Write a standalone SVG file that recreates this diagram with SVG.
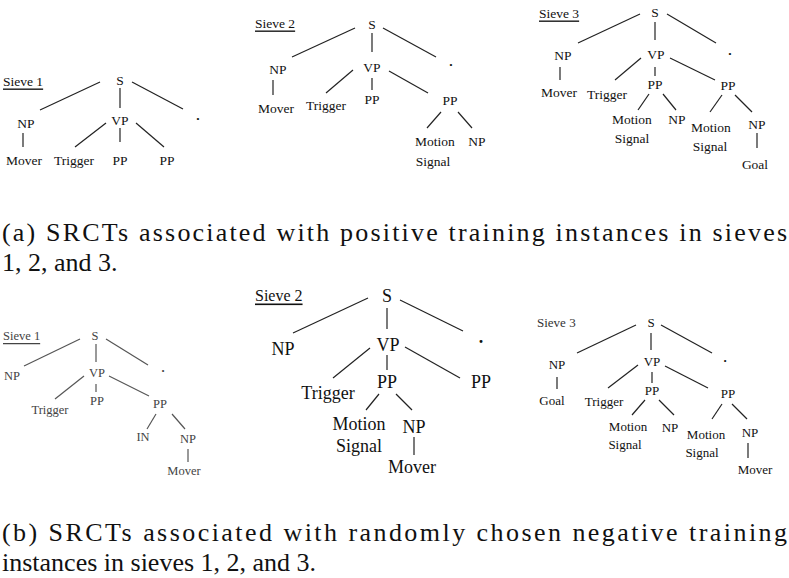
<svg xmlns="http://www.w3.org/2000/svg" width="789" height="578" viewBox="0 0 789 578">
<style>
text{font-family:'Liberation Serif','DejaVu Serif','Times New Roman',serif;fill:#111;text-anchor:middle;dominant-baseline:central}
.a text{font-size:13.5px}
.b1 text{font-size:12.5px;fill:#444}
.b2 text{font-size:18px}
.b3 text{font-size:13px}
.lab{text-anchor:start;text-decoration:underline}
.cap{font-size:26px;text-anchor:start;dominant-baseline:auto}
.dot{font-weight:bold}
line{stroke:#222;stroke-width:1.2}
.b1 line{stroke:#555}
</style>
<rect width="789" height="578" fill="#fff"/>
<g id="a1" class="a">
<text class="lab" x="3" y="81">Sieve 1</text>
<text x="120" y="80">S</text><text x="26" y="123">NP</text><text x="120" y="120">VP</text><text class="dot" x="198" y="115">.</text>
<text x="24" y="160">Mover</text><text x="74" y="160">Trigger</text><text x="120" y="160">PP</text><text x="167" y="160">PP</text>
<g class="conn"><line x1="100" y1="82" x2="40" y2="110"/><line x1="120" y1="88" x2="120" y2="108"/><line x1="132" y1="82" x2="183" y2="109"/><line x1="23" y1="133" x2="23" y2="147"/><line x1="106" y1="123" x2="75" y2="147"/><line x1="120" y1="128" x2="120" y2="142"/><line x1="136" y1="123" x2="164" y2="147"/></g>
</g>
<g id="a2" class="a">
<text class="lab" x="255" y="23">Sieve 2</text>
<text x="372" y="24">S</text><text x="278" y="69">NP</text><text x="372" y="67">VP</text><text class="dot" x="451" y="61">.</text>
<text x="276" y="108">Mover</text><text x="326" y="105">Trigger</text><text x="372" y="99">PP</text><text x="450" y="100">PP</text>
<text x="435" y="141">Motion</text><text x="433" y="161">Signal</text><text x="477" y="141">NP</text>
<g class="conn"><line x1="355" y1="28" x2="292" y2="57"/><line x1="372" y1="33" x2="372" y2="52"/><line x1="383" y1="28" x2="436" y2="57"/><line x1="273" y1="80" x2="273" y2="95"/><line x1="353" y1="70" x2="326" y2="93"/><line x1="372" y1="78" x2="372" y2="90"/><line x1="389" y1="71" x2="428" y2="93"/><line x1="441" y1="112" x2="427" y2="128"/><line x1="458" y1="112" x2="472" y2="128"/></g>
</g>
<g id="a3" class="a">
<text class="lab" x="539" y="13">Sieve 3</text>
<text x="655" y="12">S</text><text x="563" y="55">NP</text><text x="656" y="54">VP</text><text class="dot" x="730" y="50">.</text>
<text x="559" y="92">Mover</text><text x="607" y="94">Trigger</text><text x="655" y="84">PP</text><text x="728" y="85">PP</text>
<text x="632" y="119">Motion</text><text x="632" y="138">Signal</text><text x="677" y="119">NP</text>
<text x="711" y="127">Motion</text><text x="710" y="146">Signal</text><text x="757" y="124">NP</text><text x="755" y="164">Goal</text>
<g class="conn"><line x1="640" y1="14" x2="578" y2="43"/><line x1="655" y1="22" x2="655" y2="40"/><line x1="667" y1="14" x2="716" y2="43"/><line x1="560" y1="67" x2="560" y2="80"/><line x1="641" y1="58" x2="615" y2="80"/><line x1="655" y1="67" x2="655" y2="76"/><line x1="670" y1="58" x2="715" y2="80"/><line x1="649" y1="94" x2="638" y2="110"/><line x1="663" y1="94" x2="676" y2="110"/><line x1="722" y1="95" x2="710" y2="112"/><line x1="735" y1="95" x2="752" y2="112"/><line x1="757" y1="133" x2="757" y2="148"/></g>
</g>
<text class="cap" x="2" y="241" textLength="785" lengthAdjust="spacing">(a) SRCTs associated with positive training instances in sieves</text>
<text class="cap" x="2" y="271">1, 2, and 3.</text>
<g id="b1" class="b1">
<text class="lab" x="3" y="336">Sieve 1</text>
<text x="95" y="336">S</text><text x="12" y="376">NP</text><text x="97" y="373">VP</text><text class="dot" x="163" y="368">.</text>
<text x="50" y="410">Trigger</text><text x="97" y="401">PP</text><text x="160" y="404">PP</text><text x="143" y="437">IN</text><text x="188" y="439">NP</text><text x="184" y="471">Mover</text>
<g class="conn"><line x1="80" y1="339" x2="24" y2="366"/><line x1="96" y1="344" x2="96" y2="362"/><line x1="106" y1="339" x2="148" y2="365"/><line x1="84" y1="376" x2="55" y2="399"/><line x1="96" y1="384" x2="96" y2="392"/><line x1="109" y1="376" x2="149" y2="396"/><line x1="156" y1="414" x2="147" y2="429"/><line x1="172" y1="414" x2="185" y2="429"/><line x1="188" y1="449" x2="188" y2="462"/></g>
</g>
<g id="b2" class="b2">
<text class="lab" x="255" y="295" style="font-size:16px">Sieve 2</text>
<text x="387" y="296">S</text><text x="283" y="349">NP</text><text x="388" y="345">VP</text><text class="dot" x="481" y="337">.</text>
<text x="328" y="393">Trigger</text><text x="387" y="382">PP</text><text x="481" y="382">PP</text>
<text x="359" y="424">Motion</text><text x="359" y="446">Signal</text><text x="414" y="427">NP</text><text x="412" y="467">Mover</text>
<g class="conn"><line x1="368" y1="298" x2="293" y2="333"/><line x1="387" y1="308" x2="387" y2="329"/><line x1="400" y1="300" x2="463" y2="331"/><line x1="370" y1="348" x2="333" y2="378"/><line x1="387" y1="355" x2="387" y2="370"/><line x1="405" y1="347" x2="460" y2="378"/><line x1="379" y1="394" x2="366" y2="410"/><line x1="396" y1="394" x2="412" y2="410"/><line x1="414" y1="437" x2="414" y2="455"/></g>
</g>
<g id="b3" class="b3">
<text x="537" y="322" style="text-anchor:start;fill:#333">Sieve 3</text>
<text x="651" y="322">S</text><text x="557" y="364">NP</text><text x="652" y="361">VP</text><text class="dot" x="725" y="357">.</text>
<text x="552" y="400">Goal</text><text x="604" y="401">Trigger</text><text x="652" y="390">PP</text><text x="728" y="393">PP</text>
<text x="628" y="426">Motion</text><text x="625" y="444">Signal</text><text x="670" y="427">NP</text>
<text x="706" y="434">Motion</text><text x="702" y="452">Signal</text><text x="750" y="432">NP</text><text x="755" y="469">Mover</text>
<g class="conn"><line x1="636" y1="325" x2="577" y2="353"/><line x1="651" y1="333" x2="651" y2="350"/><line x1="661" y1="325" x2="712" y2="353"/><line x1="557" y1="377" x2="557" y2="389"/><line x1="638" y1="365" x2="608" y2="388"/><line x1="652" y1="372" x2="652" y2="383"/><line x1="665" y1="366" x2="708" y2="388"/><line x1="645" y1="400" x2="632" y2="415"/><line x1="659" y1="400" x2="674" y2="415"/><line x1="722" y1="404" x2="712" y2="419"/><line x1="732" y1="404" x2="747" y2="419"/><line x1="748" y1="443" x2="748" y2="458"/></g>
</g>
<text class="cap" x="2" y="541" textLength="785" lengthAdjust="spacing">(b) SRCTs associated with randomly chosen negative training</text>
<text class="cap" x="2" y="571">instances in sieves 1, 2, and 3.</text>
</svg>
